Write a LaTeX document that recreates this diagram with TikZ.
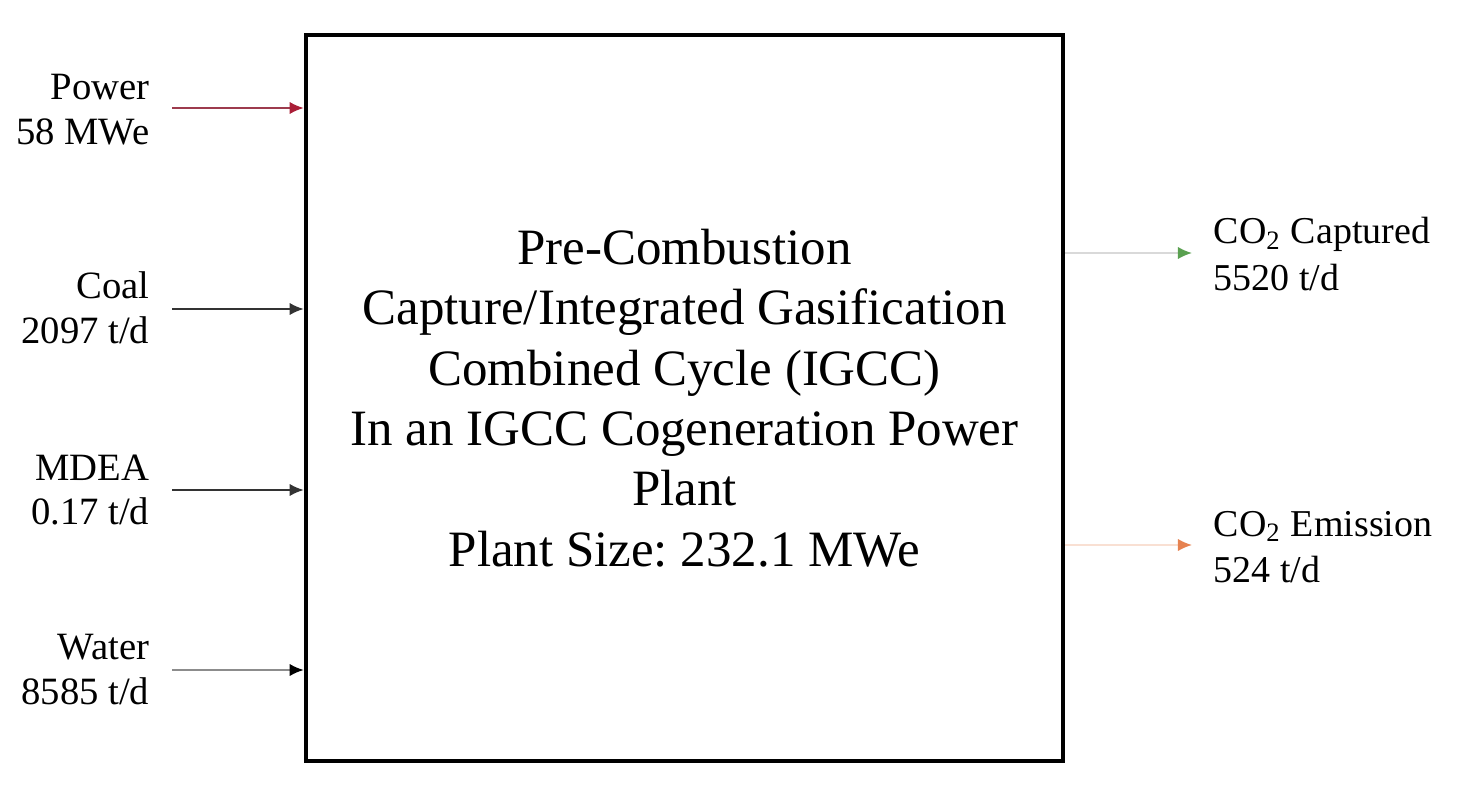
\documentclass[tikz,border=0pt]{standalone}
\usepackage{fontspec}
\setmainfont{Liberation Serif}
\frenchspacing
\usetikzlibrary{calc}
\usetikzlibrary{positioning}
\usetikzlibrary{arrows.meta}
\definecolor{powerred}{RGB}{170,30,55}
\definecolor{capgreen}{RGB}{90,160,80}
\definecolor{emorange}{RGB}{230,130,80}
\tikzstyle{plantbox} = [draw, line width=1.3pt, minimum width=7.57cm, minimum height=7.26cm, align=center, font=\fontsize{14.5}{17.2}\selectfont]
\tikzstyle{inlabel} = [align=right, anchor=east, inner sep=0pt, font=\fontsize{11}{12.8}\selectfont]
\tikzstyle{outlabel} = [align=left, anchor=west, inner sep=0pt, font=\fontsize{10.8}{13.2}\selectfont]
\tikzstyle{flow} = [line width=0.5pt, -{Latex[length=4pt,width=3.5pt]}]

\begin{document}
\begin{tikzpicture}
    \useasboundingbox (0,0) rectangle (14.67,-7.88);

    \node[plantbox] (plant) at (6.845,-3.98) {Pre-Combustion\\Capture/Integrated Gasification\\Combined Cycle (IGCC)\\In an IGCC Cogeneration Power\\Plant\\Plant Size: 232.1 MWe};

    % inputs
    \node[inlabel] (power) at (1.50,-1.10) {Power\\58 MWe};
    \node[inlabel] (coal) at (1.50,-3.08) {Coal\\2097 t/d};
    \node[inlabel] (mdea) at (1.50,-4.90) {MDEA\\0.17 t/d};
    \node[inlabel] (water) at (1.50,-6.70) {Water\\8585 t/d};
    \coordinate (power_in) at (1.72,-1.08);
    \coordinate (coal_in) at (1.72,-3.09);
    \coordinate (mdea_in) at (1.72,-4.90);
    \coordinate (water_in) at (1.72,-6.70);
    \draw[flow, draw=powerred!70!gray, -{Latex[length=4pt,width=3.5pt,color=powerred]}] (power_in) -- (power_in -| plant.west);
    \draw[flow, draw=black!80] (coal_in) -- (coal_in -| plant.west);
    \draw[flow, draw=black!80] (mdea_in) -- (mdea_in -| plant.west);
    \draw[flow, draw=black!45, -{Latex[length=4pt,width=3.5pt,color=black]}] (water_in) -- (water_in -| plant.west);

    % outputs
    \node[outlabel] (captured) at (12.13,-2.54) {CO\textsubscript{2} Captured\\5520 t/d};
    \node[outlabel] (emission) at (12.13,-5.47) {CO\textsubscript{2} Emission\\524 t/d};
    \coordinate (captured_out) at (11.92,-2.53);
    \coordinate (emission_out) at (11.92,-5.45);
    \draw[flow, draw=black!15, -{Latex[length=4pt,width=3.5pt,color=capgreen]}] (captured_out -| plant.east) -- (captured_out);
    \draw[flow, draw=emorange!25, -{Latex[length=4pt,width=3.5pt,color=emorange]}] (emission_out -| plant.east) -- (emission_out);
\end{tikzpicture}
\end{document}
